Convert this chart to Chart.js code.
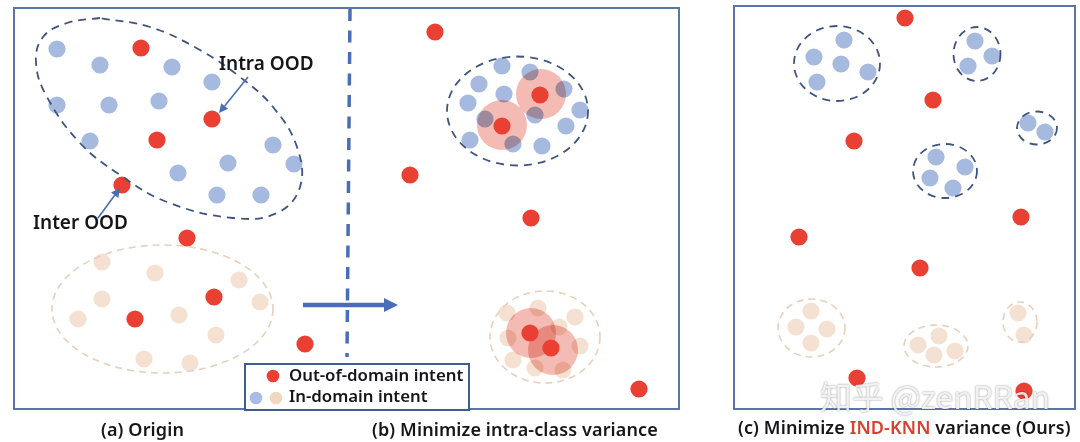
<!DOCTYPE html>
<html>
<head>
<meta charset="utf-8">
<title>OOD intent</title>
<script src="https://cdn.jsdelivr.net/npm/chart.js@4"></script>
<style>
  html, body { margin: 0; padding: 0; background: #fff; }
  canvas { display: block; }
</style>
</head>
<body>
<canvas id="chart" width="1080" height="442"></canvas>
<script>
// out-of-domain intents, all three panels
const redA = [[141,48],[212,119],[157,140],[122,185],[187,238],[214,297],[135,319],[305,344]];
const redB = [[435,32],[540,95],[502,126],[410,175],[531,218],[530,333],[551,348],[639,389]];
const redC = [[905,18],[933,100],[854,141],[1021,217],[799,237],[920,268],[857,378],[1024,391]];

// in-domain intents, blue class
const blueA = [[57,49],[100,65],[172,67],[212,82],[57,105],[109,105],[159,101],[90,141],[273,145],[228,163],[294,164],[178,173],[217,195],[261,195]];
const blueB = [[502,66],[530,72],[479,84],[504,94],[564,89],[468,103],[580,110],[535,115],[485,119],[566,126],[470,140],[513,144],[542,146]];
const blueC = [[844,40],[814,57],[841,64],[868,72],[817,82],[975,41],[992,56],[968,66],[1028,123],[1045,132],[936,157],[965,167],[930,178],[953,188]];

// in-domain intents, beige class
const beigeA = [[102,262],[155,273],[239,280],[102,299],[260,302],[78,319],[179,315],[216,335],[144,359],[190,363]];
const beigeB = [[507,313],[538,308],[575,317],[559,327],[508,338],[580,346],[513,360],[535,368],[563,370]];
const beigeC = [[811,311],[796,327],[827,329],[811,343],[939,336],[918,345],[955,351],[934,355],[1018,313],[1024,335]];

const halos = [[541,94],[502,125],[531,333],[553,350]];
const legendRed = [[273,376]];
const legendBlue = [[256,398]];
const legendBeige = [[276,398]];

// outline of the big tilted cluster in panel (a)
const blobOutline = [[100,18],[67,23],[43,37],[36,63],[47,97],[80,143],[120,175],[167,202],[233,218],[277,213],[300,187],[297,147],[273,107],[240,77],[200,50],[150,27],[100,18]];

// cx, cy, rx, ry
const blueRings = [[517.5,111,70.5,54.5],[837,63.5,43,37.5],[977,54,23.5,27],[1037,128,20,16.5],[945,171,32,27]];
const beigeRings = [[162.5,309,110.5,64],[545,337,55,46],[811.5,328,33.5,29],[936,346,32,21],[1020,322,17,20]];

// left, top, right, bottom
const frames = [[14,8,679,409],[734,6,1075,409]];

const RED = '#EA3F33', BLUE = '#A6B9DE', BEIGE = '#F5E1D2', RING = '#3F5580', FRAME = '#5A75A8', ARROW = '#4A6DB8';
const toXY = list => list.map(p => ({ x: p[0], y: p[1] }));

function dots(name, list, color, radius) {
    return { label: name, data: toXY(list), backgroundColor: color, pointRadius: radius, pointBorderWidth: 0, pointHoverRadius: radius, clip: false };
}

function arrow(ctx, x1, y1, x2, y2, width, head) {
    const a = Math.atan2(y2 - y1, x2 - x1);
    const bx = x2 - head * 2 * Math.cos(a), by = y2 - head * 2 * Math.sin(a);
    ctx.strokeStyle = ARROW;
    ctx.fillStyle = ARROW;
    ctx.lineWidth = width;
    ctx.setLineDash([]);
    ctx.beginPath(); ctx.moveTo(x1, y1); ctx.lineTo(bx, by); ctx.stroke();
    ctx.beginPath();
    ctx.moveTo(x2, y2);
    ctx.lineTo(bx - head * Math.sin(a), by + head * Math.cos(a));
    ctx.lineTo(bx + head * Math.sin(a), by - head * Math.cos(a));
    ctx.closePath(); ctx.fill();
}

function label(ctx, text, x, y, font, color) {
    ctx.font = font;
    ctx.fillStyle = color || '#15161a';
    ctx.textBaseline = 'middle';
    ctx.textAlign = 'left';
    ctx.fillText(text, x, y);
    return ctx.measureText(text).width;
}

const sketch = {
    id: 'sketch',
    beforeDatasetsDraw(chart) {
        const { ctx, scales: { x, y } } = chart;
        ctx.save();
        ctx.fillStyle = '#fff';
        ctx.fillRect(0, 0, chart.width, chart.height);
        ctx.strokeStyle = FRAME;
        ctx.lineWidth = 2;
        frames.forEach(f => ctx.strokeRect(x.getPixelForValue(f[0]), y.getPixelForValue(f[1]),
            x.getPixelForValue(f[2]) - x.getPixelForValue(f[0]), y.getPixelForValue(f[3]) - y.getPixelForValue(f[1])));
        // panel divider
        ctx.strokeStyle = ARROW;
        ctx.lineWidth = 3.5;
        ctx.setLineDash([12, 9.5]);
        ctx.beginPath();
        ctx.moveTo(x.getPixelForValue(350), y.getPixelForValue(9));
        ctx.lineTo(x.getPixelForValue(347), y.getPixelForValue(357));
        ctx.stroke();
        ctx.setLineDash([]);
        // legend box
        ctx.fillStyle = '#fff';
        ctx.fillRect(245, 364, 224, 46);
        ctx.strokeStyle = '#3E5C8F';
        ctx.lineWidth = 2;
        ctx.strokeRect(245, 364, 224, 46);
        ctx.restore();
    },
    beforeDatasetDraw(chart, args) {
        if (chart.data.datasets[args.index].label === 'halo') chart.ctx.globalCompositeOperation = 'multiply';
    },
    afterDatasetDraw(chart) {
        chart.ctx.globalCompositeOperation = 'source-over';
    },
    afterDatasetsDraw(chart) {
        const { ctx, scales: { x, y } } = chart;
        ctx.save();
        const ring = (r, color, width, dash) => {
            ctx.strokeStyle = color;
            ctx.lineWidth = width;
            ctx.setLineDash(dash);
            ctx.beginPath();
            ctx.ellipse(x.getPixelForValue(r[0]), y.getPixelForValue(r[1]), r[2], r[3], 0, 0, Math.PI * 2);
            ctx.stroke();
        };
        blueRings.forEach(r => ring(r, RING, 1.8, [8, 6]));
        beigeRings.forEach(r => ring(r, '#E8D0BC', 1.6, [7, 5]));

        arrow(ctx, 303, 305, 398, 305, 4.5, 7);
        arrow(ctx, 248, 77, 219, 113, 1.6, 4.5);
        arrow(ctx, 98, 218, 120, 188, 1.6, 4.5);

        const big = '600 19px "Noto Sans"';
        label(ctx, 'Intra OOD', 219, 65, big);
        label(ctx, 'Inter OOD', 33, 224, big);
        const leg = '600 16.8px "Noto Sans"';
        label(ctx, 'Out-of-domain intent', 289, 376, leg);
        label(ctx, 'In-domain intent', 289, 397, leg);

        ctx.letterSpacing = '0.12px';
        const sub = '600 18px "Noto Sans"';
        label(ctx, '(a) Origin', 101, 431, sub);
        label(ctx, '(b) Minimize intra-class variance', 372, 431, sub);
        let cx = 738;
        cx += label(ctx, '(c) Minimize ', cx, 429, sub);
        cx += label(ctx, 'IND-KNN', cx, 429, sub, '#D9402F');
        label(ctx, ' variance (Ours)', cx, 429, sub);
        ctx.letterSpacing = '0px';

        // watermark
        ctx.shadowColor = 'rgba(0,0,0,0.55)';
        ctx.shadowBlur = 2;
        label(ctx, '知乎 @zenRRan', 820, 397, '31.8px "Noto Sans CJK SC"', 'rgba(255,255,255,0.85)');
        ctx.restore();
    }
};

new Chart(document.querySelector('#chart'), {
    type: 'scatter',
    data: {
        datasets: [
            { label: 'blob', data: toXY(blobOutline), showLine: true, tension: 0.4, borderColor: RING, borderWidth: 1.8, borderDash: [8, 6], pointRadius: 0, clip: false },
            dots('legend out', legendRed, RED, 6.3),
            dots('legend blue', legendBlue, '#A8BCE5', 6.3),
            dots('legend beige', legendBeige, '#F0D8C0', 6.3),
            dots('out a', redA, RED, 8.6),
            dots('out b', redB, RED, 8.6),
            dots('out c', redC, RED, 8.6),
            dots('halo', halos, '#F3BBB3', 25),
            dots('blue a', blueA, BLUE, 8.6),
            dots('blue b', blueB, BLUE, 8.6),
            dots('blue c', blueC, BLUE, 8.6),
            dots('beige a', beigeA, BEIGE, 8.6),
            dots('beige b', beigeB, BEIGE, 8.6),
            dots('beige c', beigeC, BEIGE, 8.6)
        ]
    },
    options: {
        responsive: false,
        animation: false,
        events: [],
        layout: { padding: 0, autoPadding: false },
        plugins: { legend: { display: false }, tooltip: { enabled: false } },
        scales: {
            x: { type: 'linear', min: 0, max: 1080, display: false },
            y: { type: 'linear', min: 0, max: 442, reverse: true, display: false }
        }
    },
    plugins: [sketch]
});
</script>
</body>
</html>
